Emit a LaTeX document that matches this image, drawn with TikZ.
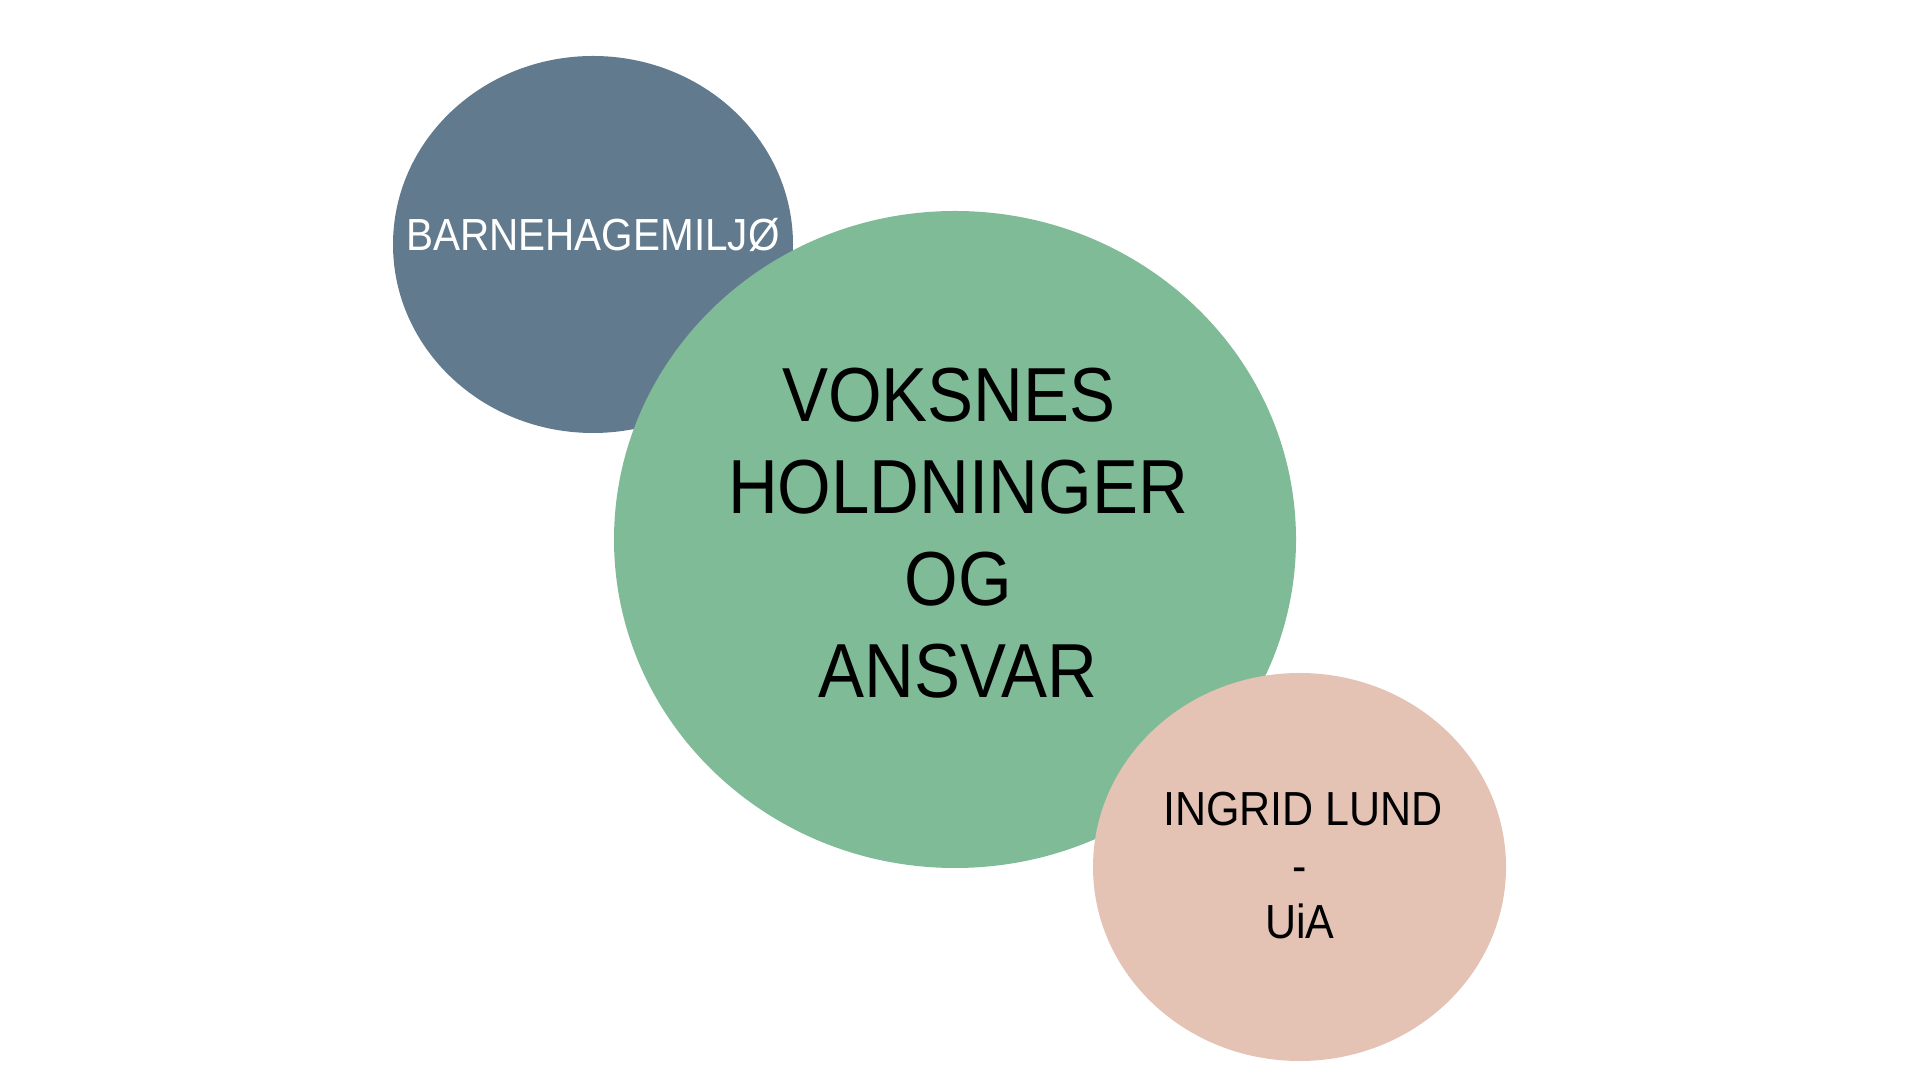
\documentclass[tikz,border=0pt]{standalone}
\usepackage{fontspec}
\setmainfont{Liberation Sans}[FakeStretch=0.9]
\usepackage{tikz}
\usetikzlibrary{shapes.geometric, positioning}
\usepackage{xcolor}
\definecolor{BubbleSlate}{HTML}{627A8E}
\definecolor{BubbleGreen}{HTML}{7FBB97}
\definecolor{BubbleRose}{HTML}{E4C3B4}

\begin{document}
\begin{tikzpicture}[
    bubble/.style={ellipse, inner sep=0pt},
    bigtext/.style={anchor=base, font=\fontsize{21.8}{26}\selectfont, text=black},
    smalltext/.style={anchor=base, font=\fontsize{12.8}{16}\selectfont},
    nametext/.style={anchor=base, font=\fontsize{13.6}{16}\selectfont, text=black}
  ]
    \useasboundingbox (0,0) rectangle (19.2,10.8);
    % Bubbles (back to front)
    \node[bubble, fill=BubbleSlate, minimum width=4.00cm, minimum height=3.77cm] (milieu) at (5.93, 8.355) {};
    \node[bubble, fill=BubbleGreen, minimum width=6.82cm, minimum height=6.57cm] (attitude) at (9.55, 5.405) {};
    \node[bubble, fill=BubbleRose, minimum width=4.13cm, minimum height=3.88cm] (author) at (12.995, 2.13) {};

    % Labels
    \node[smalltext, text=white] (milieutxt) at (5.93, 8.29) {BARNEHAGEMILJØ};
    \foreach \x/\y/\txt [count=\i] in {9.49/6.58/VOKSNES, 9.58/5.66/HOLDNINGER, 9.58/4.74/OG, 9.58/3.82/ANSVAR} {
        \node[bigtext] (line\i) at (\x, \y) {\txt};
    }
    \node[nametext] (name) at (13.03, 2.54) {INGRID LUND};
    \node[nametext] (dash) at (13.00, 1.975) {-};
    \node[nametext] (uni) at (13.00, 1.41) {UiA};
\end{tikzpicture}
\end{document}
